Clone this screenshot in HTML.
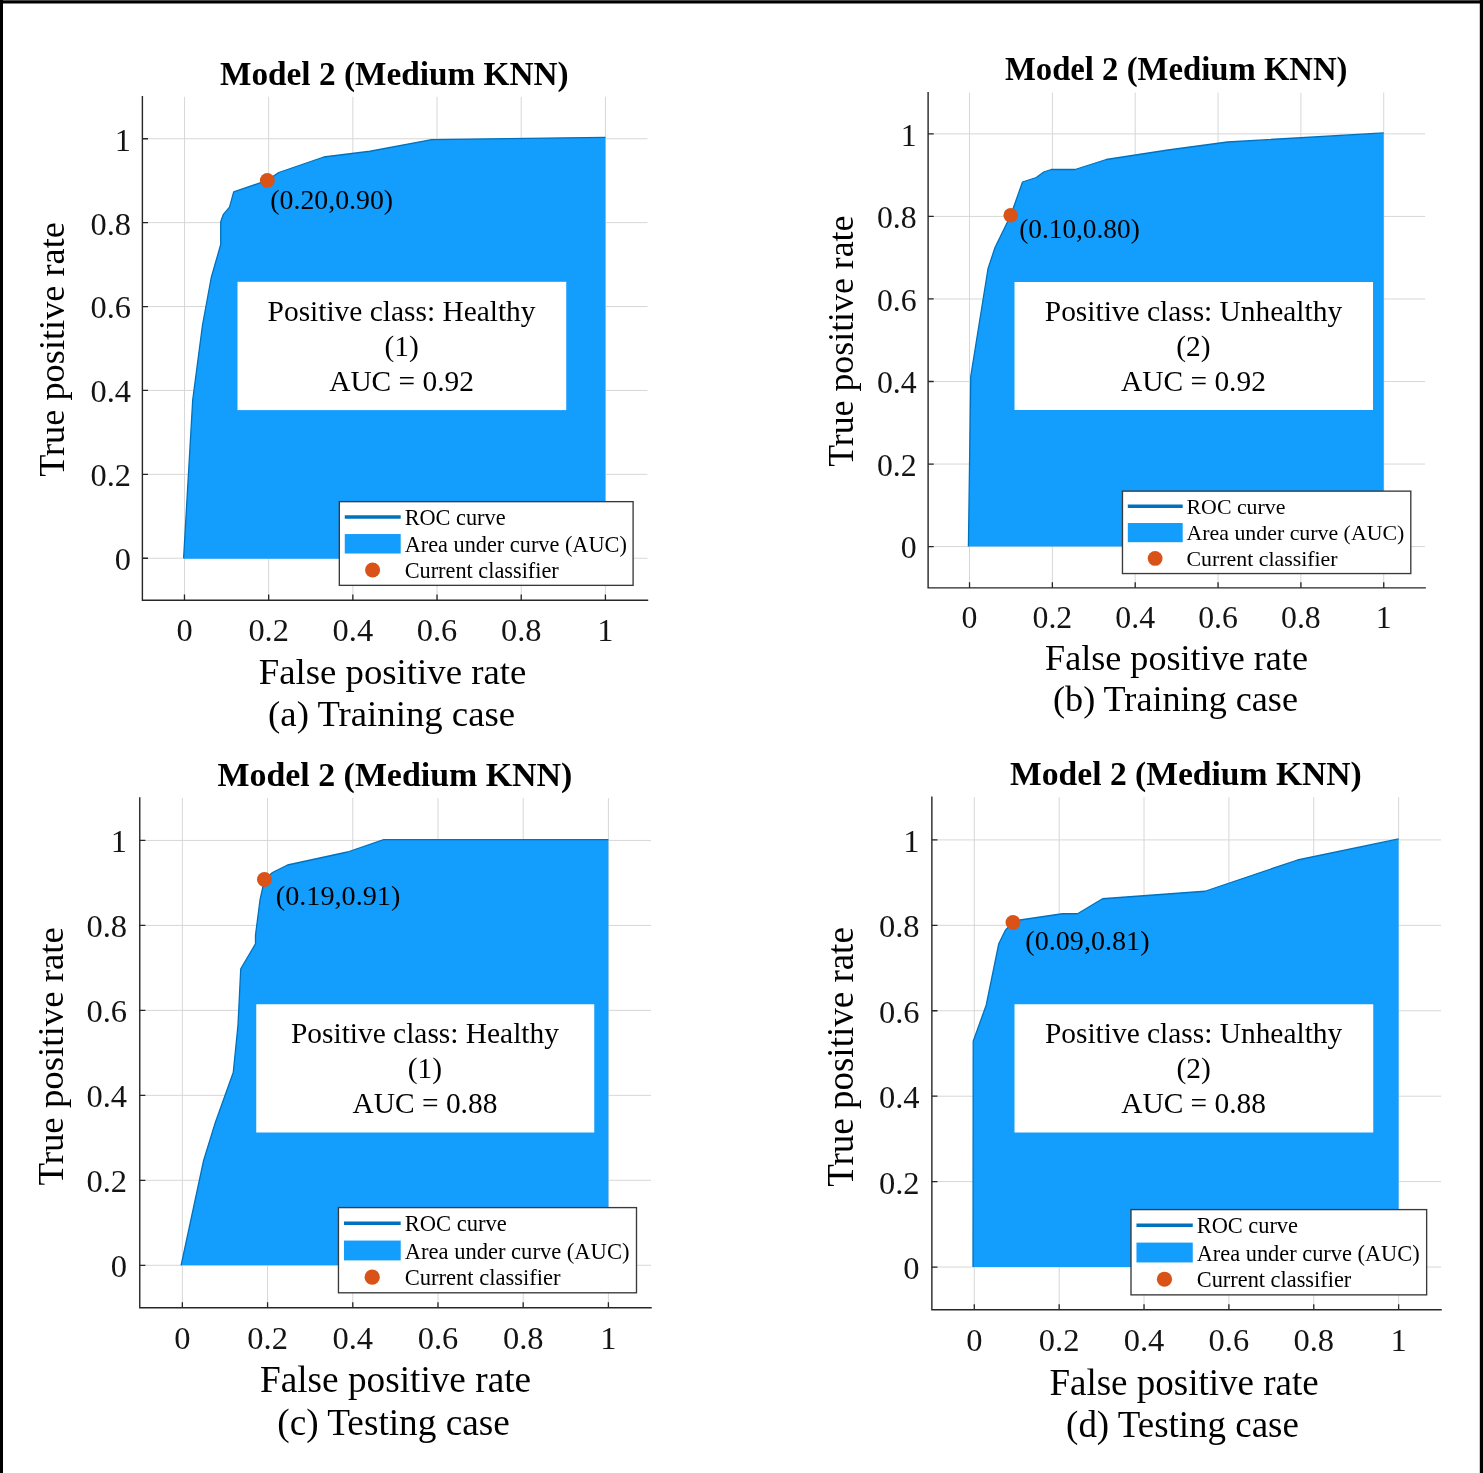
<!DOCTYPE html>
<html lang="en"><head><meta charset="utf-8"><title>ROC curves - Model 2 (Medium KNN)</title>
<style>
html,body{margin:0;padding:0;background:#fff;}
body{width:1483px;height:1473px;overflow:hidden;}
svg{display:block;}
svg text{font-family:"Liberation Serif","Times New Roman",Times,serif;fill:#000;}
.tk{fill:#141414;}
.b{font-weight:bold;}
</style></head><body>
<svg width="1483" height="1473" viewBox="0 0 1483 1473">
<rect x="0" y="0" width="1483" height="1473" fill="#fff"/>
<g id="plot-a">
<path d="M184.48 96.8V600.2M142.39 558.25H647.51M268.67 96.8V600.2M142.39 474.35H647.51M352.86 96.8V600.2M142.39 390.45H647.51M437.04 96.8V600.2M142.39 306.55H647.51M521.23 96.8V600.2M142.39 222.65H647.51M605.42 96.8V600.2M142.39 138.75H647.51" stroke="#d7d7d7" stroke-width="1" fill="none"/>
<polygon points="183.6,558.25 192.7,400 202.5,325 211.25,277.5 220.7,244.5 220.7,221.8 223.2,214.7 229.5,207.2 233.7,191.9 267.3,180.4 278.75,172.5 323.75,157 370,151.25 431.8,139.6 605.42,137.3 605.42,558.75 183.6,558.75" fill="#139dfd"/>
<polyline points="183.6,558.25 192.7,400 202.5,325 211.25,277.5 220.7,244.5 220.7,221.8 223.2,214.7 229.5,207.2 233.7,191.9 267.3,180.4 278.75,172.5 323.75,157 370,151.25 431.8,139.6 605.42,137.3" fill="none" stroke="#0072bd" stroke-width="1.3" stroke-linejoin="round"/>
<path d="M142.39 96.8V600.2H647.51" stroke="#262626" stroke-width="1.4" fill="none" stroke-linecap="square"/>
<path d="M184.48 600.2v-5.6M142.39 558.25h5.6M268.67 600.2v-5.6M142.39 474.35h5.6M352.86 600.2v-5.6M142.39 390.45h5.6M437.04 600.2v-5.6M142.39 306.55h5.6M521.23 600.2v-5.6M142.39 222.65h5.6M605.42 600.2v-5.6M142.39 138.75h5.6" stroke="#262626" stroke-width="1.3" fill="none"/>
<text class="tk" x="184.48" y="640.5" font-size="32.4" text-anchor="middle">0</text>
<text class="tk" x="131" y="570.1" font-size="32.4" text-anchor="end">0</text>
<text class="tk" x="268.67" y="640.5" font-size="32.4" text-anchor="middle">0.2</text>
<text class="tk" x="131" y="486.2" font-size="32.4" text-anchor="end">0.2</text>
<text class="tk" x="352.86" y="640.5" font-size="32.4" text-anchor="middle">0.4</text>
<text class="tk" x="131" y="402.3" font-size="32.4" text-anchor="end">0.4</text>
<text class="tk" x="437.04" y="640.5" font-size="32.4" text-anchor="middle">0.6</text>
<text class="tk" x="131" y="318.4" font-size="32.4" text-anchor="end">0.6</text>
<text class="tk" x="521.23" y="640.5" font-size="32.4" text-anchor="middle">0.8</text>
<text class="tk" x="131" y="234.5" font-size="32.4" text-anchor="end">0.8</text>
<text class="tk" x="605.42" y="640.5" font-size="32.4" text-anchor="middle">1</text>
<text class="tk" x="131" y="150.6" font-size="32.4" text-anchor="end">1</text>
<rect x="237.5" y="281.8" width="328.75" height="128.3" fill="#fff"/>
<text x="401.57" y="321.25" font-size="29.42" text-anchor="middle">Positive class: Healthy</text>
<text x="401.57" y="356" font-size="29.42" text-anchor="middle">(1)</text>
<text x="401.57" y="391.25" font-size="29.42" text-anchor="middle">AUC = 0.92</text>
<circle cx="267.3" cy="180.4" r="7.42" fill="#d95319"/>
<text x="270.3" y="208.75" font-size="27.8">(0.20,0.90)</text>
<rect x="339.33" y="501.65" width="293.77" height="83.7" fill="#fff" stroke="#3a3a3a" stroke-width="1.35"/>
<path d="M344.76 517.06H400.7" stroke="#0072bd" stroke-width="3.4"/>
<rect x="344.76" y="534.04" width="55.94" height="19.48" fill="#139dfd"/>
<circle cx="372.6" cy="570" r="7.55" fill="#d95319"/>
<text x="404.63" y="524.87" font-size="22.3">ROC curve</text>
<text x="404.63" y="551.7" font-size="22.3">Area under curve (AUC)</text>
<text x="404.63" y="577.5" font-size="22.3">Current classifier</text>
<text class="b" x="394.3" y="85.3" font-size="33.3" text-anchor="middle">Model 2 (Medium KNN)</text>
<text x="392.5" y="683.5" font-size="36.78" text-anchor="middle">False positive rate</text>
<text x="391.6" y="725.75" font-size="36.75" text-anchor="middle">(a) Training case</text>
<text transform="translate(64.4 349.5) rotate(-90)" font-size="36.3" text-anchor="middle">True positive rate</text>
</g>
<g id="plot-b">
<path d="M969.53 92.61V587.87M928.11 546.6H1425.16M1052.37 92.61V587.87M928.11 464.06H1425.16M1135.21 92.61V587.87M928.11 381.51H1425.16M1218.06 92.61V587.87M928.11 298.97H1425.16M1300.9 92.61V587.87M928.11 216.42H1425.16M1383.74 92.61V587.87M928.11 133.88H1425.16" stroke="#d7d7d7" stroke-width="1" fill="none"/>
<polygon points="968.4,546.6 970.75,376.25 988,268.75 995,247.5 1010.75,215.25 1022.5,182 1036.25,177.5 1043.75,172 1051.25,169.5 1075,169.5 1106.25,159.5 1168,150 1227.5,142 1383.74,132.9 1383.74,546.6 968.4,546.6" fill="#139dfd"/>
<polyline points="968.4,546.6 970.75,376.25 988,268.75 995,247.5 1010.75,215.25 1022.5,182 1036.25,177.5 1043.75,172 1051.25,169.5 1075,169.5 1106.25,159.5 1168,150 1227.5,142 1383.74,132.9" fill="none" stroke="#0072bd" stroke-width="1.3" stroke-linejoin="round"/>
<path d="M928.11 92.61V587.87H1425.16" stroke="#262626" stroke-width="1.4" fill="none" stroke-linecap="square"/>
<path d="M969.53 587.87v-5.6M928.11 546.6h5.6M1052.37 587.87v-5.6M928.11 464.06h5.6M1135.21 587.87v-5.6M928.11 381.51h5.6M1218.06 587.87v-5.6M928.11 298.97h5.6M1300.9 587.87v-5.6M928.11 216.42h5.6M1383.74 587.87v-5.6M928.11 133.88h5.6" stroke="#262626" stroke-width="1.3" fill="none"/>
<text class="tk" x="969.53" y="627.5" font-size="31.8" text-anchor="middle">0</text>
<text class="tk" x="916.7" y="558.25" font-size="31.8" text-anchor="end">0</text>
<text class="tk" x="1052.37" y="627.5" font-size="31.8" text-anchor="middle">0.2</text>
<text class="tk" x="916.7" y="475.7" font-size="31.8" text-anchor="end">0.2</text>
<text class="tk" x="1135.21" y="627.5" font-size="31.8" text-anchor="middle">0.4</text>
<text class="tk" x="916.7" y="393.16" font-size="31.8" text-anchor="end">0.4</text>
<text class="tk" x="1218.06" y="627.5" font-size="31.8" text-anchor="middle">0.6</text>
<text class="tk" x="916.7" y="310.62" font-size="31.8" text-anchor="end">0.6</text>
<text class="tk" x="1300.9" y="627.5" font-size="31.8" text-anchor="middle">0.8</text>
<text class="tk" x="916.7" y="228.07" font-size="31.8" text-anchor="end">0.8</text>
<text class="tk" x="1383.74" y="627.5" font-size="31.8" text-anchor="middle">1</text>
<text class="tk" x="916.7" y="145.53" font-size="31.8" text-anchor="end">1</text>
<rect x="1014.5" y="282" width="358.5" height="128" fill="#fff"/>
<text x="1193.45" y="321.25" font-size="29.42" text-anchor="middle">Positive class: Unhealthy</text>
<text x="1193.45" y="356" font-size="29.42" text-anchor="middle">(2)</text>
<text x="1193.45" y="391.25" font-size="29.42" text-anchor="middle">AUC = 0.92</text>
<circle cx="1010.75" cy="215.25" r="7.3" fill="#d95319"/>
<text x="1019.2" y="237.5" font-size="27.3">(0.10,0.80)</text>
<rect x="1122.47" y="491.13" width="288.33" height="82.42" fill="#fff" stroke="#3a3a3a" stroke-width="1.35"/>
<path d="M1127.8 506.3H1182.7" stroke="#0072bd" stroke-width="3.4"/>
<rect x="1127.8" y="523.02" width="54.9" height="19.18" fill="#139dfd"/>
<circle cx="1155.12" cy="558.43" r="7.41" fill="#d95319"/>
<text x="1186.56" y="513.99" font-size="21.85">ROC curve</text>
<text x="1186.56" y="540.41" font-size="21.85">Area under curve (AUC)</text>
<text x="1186.56" y="565.82" font-size="21.85">Current classifier</text>
<text class="b" x="1176.2" y="80" font-size="32.73" text-anchor="middle">Model 2 (Medium KNN)</text>
<text x="1176.5" y="670" font-size="36.14" text-anchor="middle">False positive rate</text>
<text x="1175.5" y="710.75" font-size="36.15" text-anchor="middle">(b) Training case</text>
<text transform="translate(853 341.2) rotate(-90)" font-size="35.8" text-anchor="middle">True positive rate</text>
</g>
<g id="plot-c">
<path d="M182.36 797.97V1307.76M139.76 1265.28H651M267.57 797.97V1307.76M139.76 1180.31H651M352.78 797.97V1307.76M139.76 1095.35H651M437.98 797.97V1307.76M139.76 1010.38H651M523.19 797.97V1307.76M139.76 925.42H651M608.4 797.97V1307.76M139.76 840.45H651" stroke="#d7d7d7" stroke-width="1" fill="none"/>
<polygon points="181.1,1265.28 203.6,1160.5 215.5,1122 233.25,1072.5 238,1025 240.75,968.75 255.5,943.75 255.5,935 260,900 264.5,879.5 272.5,872.5 287.5,865 347.5,852 383.75,839.7 608.4,839.7 608.4,1265.28 181.1,1265.28" fill="#139dfd"/>
<polyline points="181.1,1265.28 203.6,1160.5 215.5,1122 233.25,1072.5 238,1025 240.75,968.75 255.5,943.75 255.5,935 260,900 264.5,879.5 272.5,872.5 287.5,865 347.5,852 383.75,839.7 608.4,839.7" fill="none" stroke="#0072bd" stroke-width="1.3" stroke-linejoin="round"/>
<path d="M139.76 797.97V1307.76H651" stroke="#262626" stroke-width="1.4" fill="none" stroke-linecap="square"/>
<path d="M182.36 1307.76v-5.6M139.76 1265.28h5.6M267.57 1307.76v-5.6M139.76 1180.31h5.6M352.78 1307.76v-5.6M139.76 1095.35h5.6M437.98 1307.76v-5.6M139.76 1010.38h5.6M523.19 1307.76v-5.6M139.76 925.42h5.6M608.4 1307.76v-5.6M139.76 840.45h5.6" stroke="#262626" stroke-width="1.3" fill="none"/>
<text class="tk" x="182.36" y="1348.75" font-size="32.5" text-anchor="middle">0</text>
<text class="tk" x="127" y="1277.16" font-size="32.5" text-anchor="end">0</text>
<text class="tk" x="267.57" y="1348.75" font-size="32.5" text-anchor="middle">0.2</text>
<text class="tk" x="127" y="1192.2" font-size="32.5" text-anchor="end">0.2</text>
<text class="tk" x="352.78" y="1348.75" font-size="32.5" text-anchor="middle">0.4</text>
<text class="tk" x="127" y="1107.23" font-size="32.5" text-anchor="end">0.4</text>
<text class="tk" x="437.98" y="1348.75" font-size="32.5" text-anchor="middle">0.6</text>
<text class="tk" x="127" y="1022.27" font-size="32.5" text-anchor="end">0.6</text>
<text class="tk" x="523.19" y="1348.75" font-size="32.5" text-anchor="middle">0.8</text>
<text class="tk" x="127" y="937.3" font-size="32.5" text-anchor="end">0.8</text>
<text class="tk" x="608.4" y="1348.75" font-size="32.5" text-anchor="middle">1</text>
<text class="tk" x="127" y="852.34" font-size="32.5" text-anchor="end">1</text>
<rect x="256.25" y="1004.25" width="338" height="128.25" fill="#fff"/>
<text x="424.95" y="1043" font-size="29.42" text-anchor="middle">Positive class: Healthy</text>
<text x="424.95" y="1078.25" font-size="29.42" text-anchor="middle">(1)</text>
<text x="424.95" y="1113.25" font-size="29.42" text-anchor="middle">AUC = 0.88</text>
<circle cx="264.5" cy="879.5" r="7.51" fill="#d95319"/>
<text x="275.8" y="904.5" font-size="28.2">(0.19,0.91)</text>
<rect x="338.45" y="1207.6" width="298.05" height="85.2" fill="#fff" stroke="#3a3a3a" stroke-width="1.35"/>
<path d="M343.96 1223.29H400.71" stroke="#0072bd" stroke-width="3.4"/>
<rect x="343.96" y="1240.57" width="56.76" height="19.83" fill="#139dfd"/>
<circle cx="372.2" cy="1277.17" r="7.66" fill="#d95319"/>
<text x="404.7" y="1231.24" font-size="22.56">ROC curve</text>
<text x="404.7" y="1258.55" font-size="22.56">Area under curve (AUC)</text>
<text x="404.7" y="1284.81" font-size="22.56">Current classifier</text>
<text class="b" x="394.9" y="785.8" font-size="33.9" text-anchor="middle">Model 2 (Medium KNN)</text>
<text x="395.5" y="1392.3" font-size="37.28" text-anchor="middle">False positive rate</text>
<text x="393.5" y="1434.5" font-size="37.25" text-anchor="middle">(c) Testing case</text>
<text transform="translate(63 1056.3) rotate(-90)" font-size="36.85" text-anchor="middle">True positive rate</text>
</g>
<g id="plot-d">
<path d="M974.3 797.18V1309.76M931.87 1267.05H1441.06M1059.17 797.18V1309.76M931.87 1181.62H1441.06M1144.03 797.18V1309.76M931.87 1096.19H1441.06M1228.9 797.18V1309.76M931.87 1010.76H1441.06M1313.76 797.18V1309.76M931.87 925.33H1441.06M1398.63 797.18V1309.76M931.87 839.9H1441.06" stroke="#d7d7d7" stroke-width="1" fill="none"/>
<polygon points="973,1267.05 973.2,1041.25 986.25,1005 998.75,943.75 1005.5,930 1013,922.5 1020,920 1062.5,913.75 1077.5,913.75 1102.5,898.75 1205,891.25 1297.5,860 1398.63,838.9 1398.63,1267.05 973,1267.05" fill="#139dfd"/>
<polyline points="973,1267.05 973.2,1041.25 986.25,1005 998.75,943.75 1005.5,930 1013,922.5 1020,920 1062.5,913.75 1077.5,913.75 1102.5,898.75 1205,891.25 1297.5,860 1398.63,838.9" fill="none" stroke="#0072bd" stroke-width="1.3" stroke-linejoin="round"/>
<path d="M931.87 797.18V1309.76H1441.06" stroke="#262626" stroke-width="1.4" fill="none" stroke-linecap="square"/>
<path d="M974.3 1309.76v-5.6M931.87 1267.05h5.6M1059.17 1309.76v-5.6M931.87 1181.62h5.6M1144.03 1309.76v-5.6M931.87 1096.19h5.6M1228.9 1309.76v-5.6M931.87 1010.76h5.6M1313.76 1309.76v-5.6M931.87 925.33h5.6M1398.63 1309.76v-5.6M931.87 839.9h5.6" stroke="#262626" stroke-width="1.3" fill="none"/>
<text class="tk" x="974.3" y="1350.75" font-size="32.5" text-anchor="middle">0</text>
<text class="tk" x="919.5" y="1278.93" font-size="32.5" text-anchor="end">0</text>
<text class="tk" x="1059.17" y="1350.75" font-size="32.5" text-anchor="middle">0.2</text>
<text class="tk" x="919.5" y="1193.5" font-size="32.5" text-anchor="end">0.2</text>
<text class="tk" x="1144.03" y="1350.75" font-size="32.5" text-anchor="middle">0.4</text>
<text class="tk" x="919.5" y="1108.08" font-size="32.5" text-anchor="end">0.4</text>
<text class="tk" x="1228.9" y="1350.75" font-size="32.5" text-anchor="middle">0.6</text>
<text class="tk" x="919.5" y="1022.64" font-size="32.5" text-anchor="end">0.6</text>
<text class="tk" x="1313.76" y="1350.75" font-size="32.5" text-anchor="middle">0.8</text>
<text class="tk" x="919.5" y="937.21" font-size="32.5" text-anchor="end">0.8</text>
<text class="tk" x="1398.63" y="1350.75" font-size="32.5" text-anchor="middle">1</text>
<text class="tk" x="919.5" y="851.78" font-size="32.5" text-anchor="end">1</text>
<rect x="1014.5" y="1004.25" width="358.75" height="128.25" fill="#fff"/>
<text x="1193.58" y="1043" font-size="29.42" text-anchor="middle">Positive class: Unhealthy</text>
<text x="1193.58" y="1078.25" font-size="29.42" text-anchor="middle">(2)</text>
<text x="1193.58" y="1113.25" font-size="29.42" text-anchor="middle">AUC = 0.88</text>
<circle cx="1013" cy="922.5" r="7.48" fill="#d95319"/>
<text x="1025.3" y="950" font-size="28.15">(0.09,0.81)</text>
<rect x="1131" y="1209.6" width="295.65" height="85.27" fill="#fff" stroke="#3a3a3a" stroke-width="1.35"/>
<path d="M1136.46 1225.3H1192.76" stroke="#0072bd" stroke-width="3.4"/>
<rect x="1136.46" y="1242.6" width="56.3" height="19.85" fill="#139dfd"/>
<circle cx="1164.48" cy="1279.23" r="7.6" fill="#d95319"/>
<text x="1196.72" y="1233.26" font-size="22.37">ROC curve</text>
<text x="1196.72" y="1260.59" font-size="22.37">Area under curve (AUC)</text>
<text x="1196.72" y="1286.87" font-size="22.37">Current classifier</text>
<text class="b" x="1185.9" y="784.5" font-size="33.58" text-anchor="middle">Model 2 (Medium KNN)</text>
<text x="1184" y="1394.5" font-size="37" text-anchor="middle">False positive rate</text>
<text x="1182.5" y="1437" font-size="36.98" text-anchor="middle">(d) Testing case</text>
<text transform="translate(853.3 1057) rotate(-90)" font-size="37" text-anchor="middle">True positive rate</text>
</g>
<rect x="0" y="0" width="1483" height="3.5" fill="#000"/>
<rect x="0" y="0" width="1483" height="1" fill="#484848"/>
<rect x="0" y="0" width="3" height="1473" fill="#000"/>
<rect x="1479.8" y="0" width="3.2" height="1473" fill="#000"/>
</svg>
</body></html>
